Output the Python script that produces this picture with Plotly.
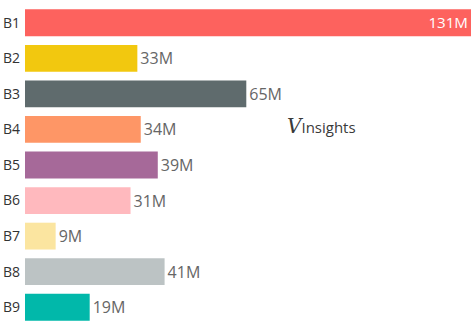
import plotly.graph_objects as go

categories = ["B1", "B2", "B3", "B4", "B5", "B6", "B7", "B8", "B9"]
values = [131, 33, 65, 34, 39, 31, 9, 41, 19]
labels = ["131M", "33M", "65M", "34M", "39M", "31M", "9M", "41M", "19M"]
colors = ["#FD625E", "#F2C80F", "#5F6B6D", "#FE9666", "#A66999",
          "#FFB9BE", "#FBE5A0", "#BCC3C4", "#01B8AA"]

positions = ["inside"] + ["outside"] * (len(values) - 1)

fig = go.Figure()
fig.add_trace(go.Bar(
    y=categories, x=values, orientation="h",
    marker=dict(color=colors, line=dict(width=0)),
    text=labels, textposition=positions,
    insidetextanchor="end",
    insidetextfont=dict(color="white", size=16, family="Open Sans"),
    outsidetextfont=dict(color="#666666", size=16, family="Open Sans"),
    cliponaxis=False,
    hoverinfo="skip",
))

# logo watermark text
fig.add_annotation(x=0.665, y=0.622, xref="paper", yref="paper",
                   text="<i><span style='font-family:DejaVu Serif;font-size:20px'>V</span></i>Insights",
                   showarrow=False,
                   font=dict(size=15, color="#3a3a3a", family="Open Sans"),
                   xanchor="center", yanchor="middle")

fig.update_layout(
    width=474, height=325,
    margin=dict(l=25, r=3, t=5, b=0),
    paper_bgcolor="white", plot_bgcolor="rgba(0,0,0,0)",
    bargap=0.245,
    showlegend=False,
    xaxis=dict(range=[0, 131], visible=False, fixedrange=True),
    yaxis=dict(autorange="reversed", showgrid=False, zeroline=False, showline=False,
               ticks="", ticklabelstandoff=4,
               tickfont=dict(size=14, color="#333333", family="Open Sans")),
)

fig.write_html("out.html")
